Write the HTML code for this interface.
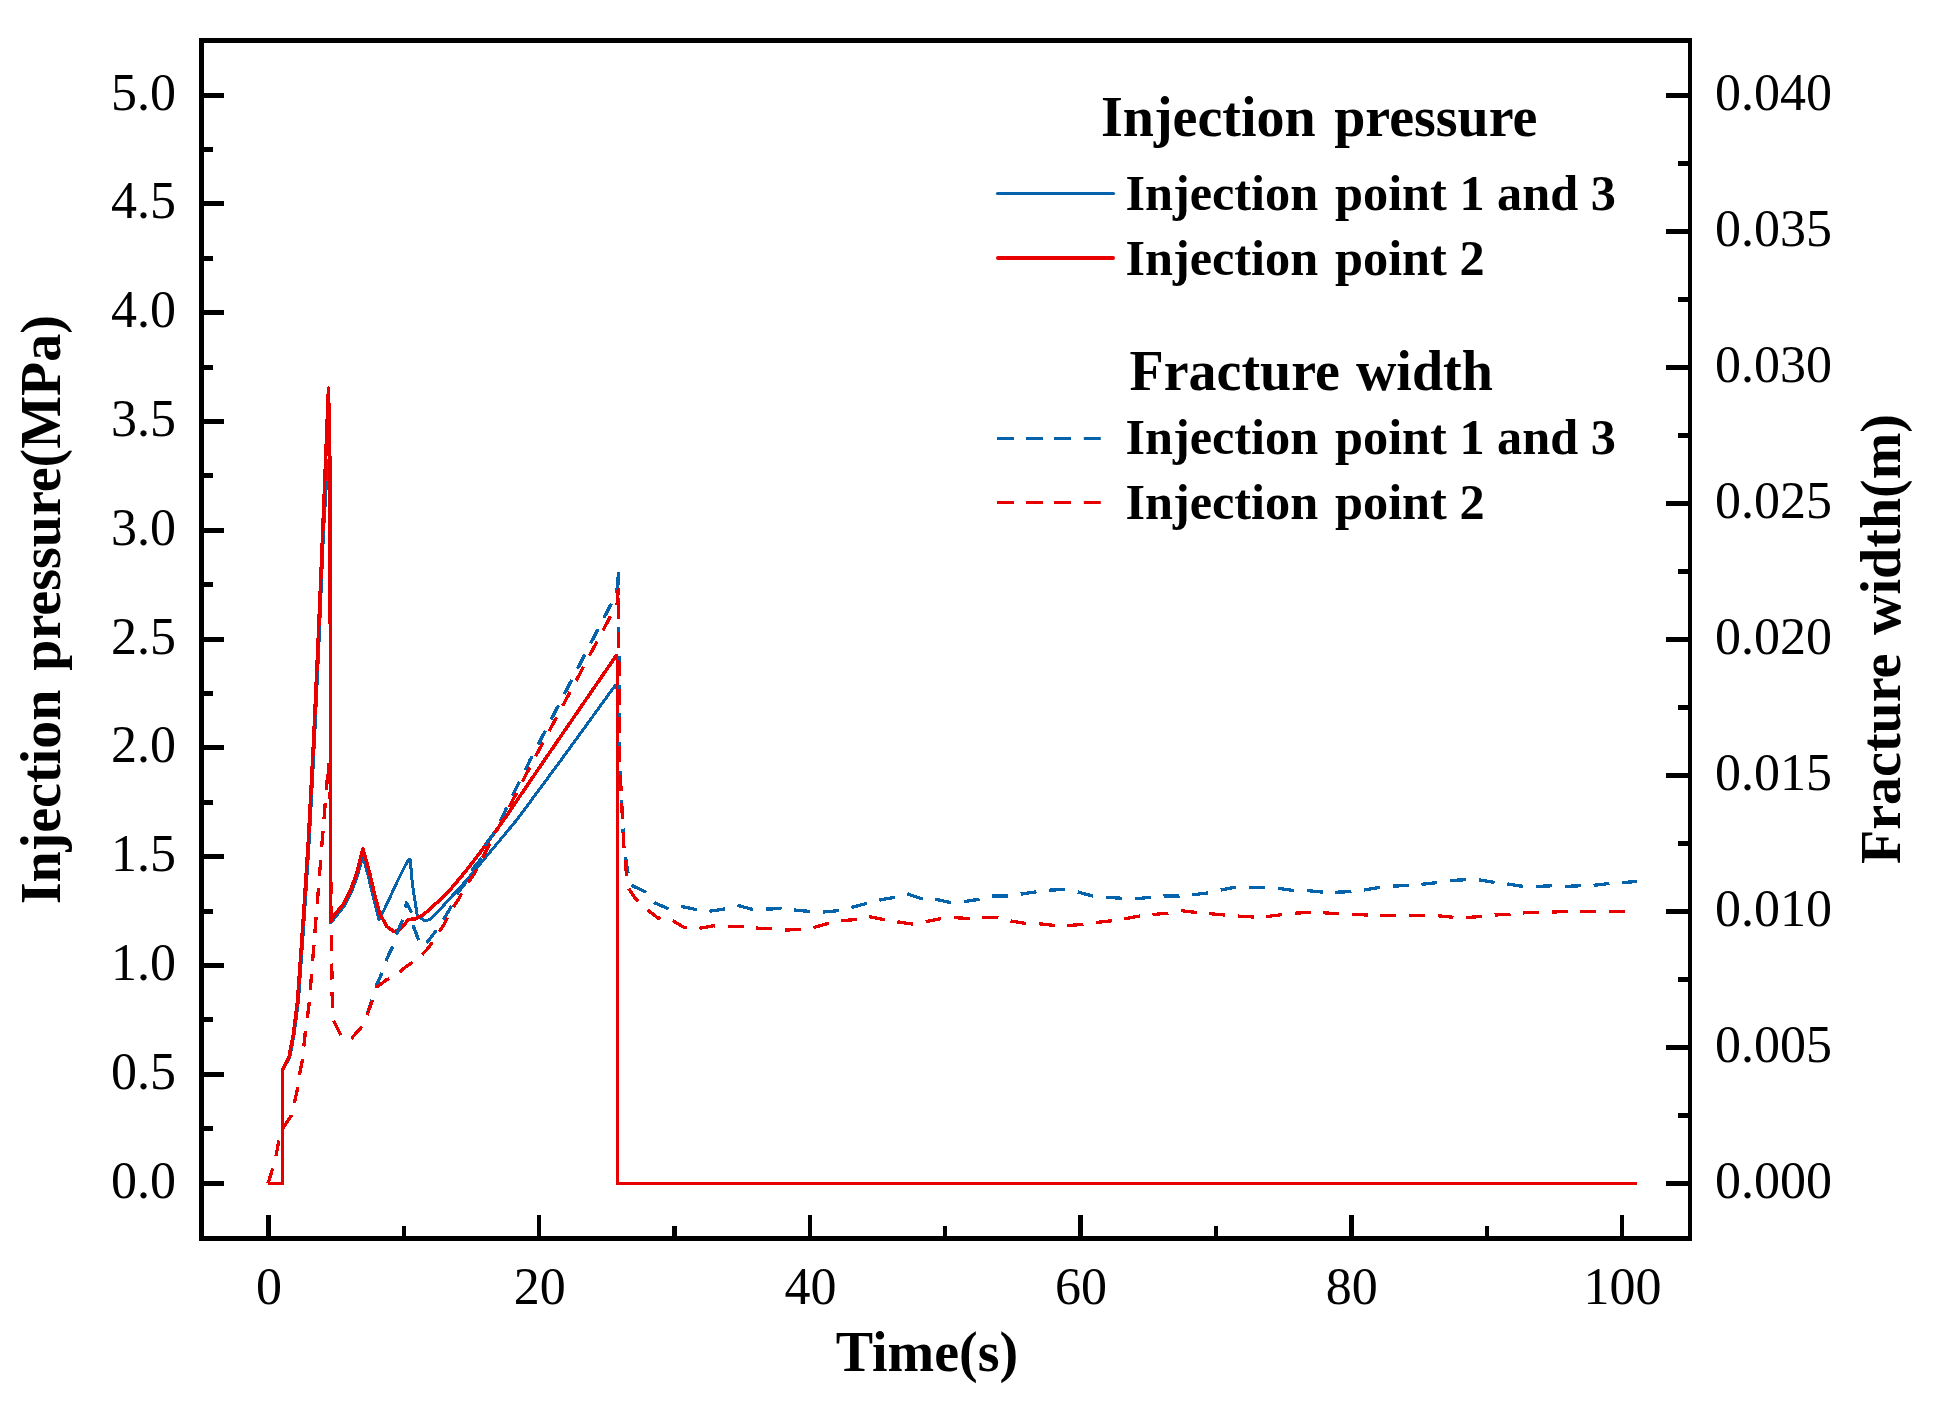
<!DOCTYPE html>
<html lang="en"><head><meta charset="utf-8"><title>Injection pressure and fracture width</title>
<style>html,body{margin:0;padding:0;background:#fff}svg{display:block}text{font-family:"Liberation Serif","Times New Roman",serif;fill:#000}.tk{font-size:52px}.tt{font-size:56px;font-weight:bold}.lg{font-size:51.6px;font-weight:bold}.lt{font-size:56px;font-weight:bold}</style></head><body>
<svg width="1942" height="1406" viewBox="0 0 1942 1406">
<rect width="1942" height="1406" fill="#fff"/>
<g fill="none" stroke-linejoin="round" stroke-linecap="butt" shape-rendering="crispEdges">
<polyline stroke="#0563ab" stroke-width="3" points="267.5,1183.5 282.5,1183.5 282.5,1069.9 289.7,1057.7 294.1,1034.6 298.5,1000.0 304.1,920.0 309.3,840.0 314.5,740.0 319.1,640.0 323.6,530.0 327.8,460.0 330.0,500.0 330.5,640.0 330.6,840.0 330.6,923.0 334.3,918.5 343.9,906.6 351.3,892.2 357.0,877.0 362.9,856.0 368.5,877.0 374.0,900.0 379.0,919.5 385.0,908.0 392.0,893.0 398.0,880.0 404.0,868.0 408.5,859.6 410.2,859.6 412.5,885.0 417.2,915.2 424.5,920.9 430.2,919.5 437.4,912.3 451.8,896.4 466.3,880.5 480.7,863.3 516.7,820.0 561.1,760.0 615.2,685.4 617.5,690.0 617.5,1183.5 1637.0,1183.5"/>
<polyline stroke="#e80000" stroke-width="3.5" points="267.5,1183.5 282.5,1183.5 282.5,1069.9 288.9,1057.7 293.3,1034.6 297.6,1000.0 303.2,920.0 308.4,840.0 313.6,740.0 318.2,640.0 322.8,530.0 328.5,388.0 329.8,458.0 330.3,640.0 330.5,840.0 330.5,921.0 334.3,915.2 343.7,903.6 350.9,889.2 356.7,873.3 362.9,848.8 369.7,873.3 375.4,897.8 379.8,913.7 387.0,926.7 394.2,931.7 399.9,929.6 408.6,919.5 415.8,918.8 423.0,915.2 437.4,902.2 451.8,887.8 466.3,870.5 480.7,851.7 503.7,820.0 544.5,760.0 616.3,655.5 617.7,660.0 617.7,1183.5 1637.0,1183.5"/>
<polyline stroke="#0563ab" stroke-width="3.3" stroke-dasharray="16 12.6" stroke-dashoffset="0" points="267.5,1183.5 268.7,1181.7 272.3,1169.4 276.0,1155.7 278.8,1141.3 283.0,1128.0 284.6,1125.4 291.1,1116.1 294.7,1101.6 297.6,1088.0 299.7,1073.5 302.6,1059.1 304.1,1044.0 305.5,1030.3 307.5,1016.6 309.4,1001.4 323.2,828.6 328.6,762.5 330.2,800.0 331.0,900.0 332.2,1000.0 332.2,1010.0 333.6,1020.9 340.8,1035.3 345.9,1039.6 351.6,1038.2 362.5,1026.0 367.5,1013.2 372.5,998.8 376.9,984.4 382.6,971.4 387.0,958.4 393.5,944.7 397.8,931.0 403.5,918.0 406.4,902.9 407.2,903.6 412.2,913.7 413.6,926.7 418.7,940.4 421.5,946.0 425.9,944.0 435.3,931.7 443.2,920.2 450.4,907.9 456.2,895.0 470.6,876.2 472.8,869.0 482.1,857.5 486.4,843.1 495.1,831.5 530.1,760.0 613.0,600.4 616.6,596.0 618.3,572.3"/>
<polyline stroke="#0563ab" stroke-width="3.3" stroke-dasharray="16 12.83" stroke-dashoffset="3.1" points="618.3,572.3 619.6,760.0 622.4,817.7 623.9,846.5 628.2,874.6 631.8,885.4 645.5,891.9 654.2,902.7 669.3,909.2 680.8,906.3 694.5,909.2 708.2,911.4 723.4,909.2 736.3,904.9 751.5,909.2 765.2,909.2 781.0,908.5 793.3,909.9 809.1,911.4 822.1,912.1 838.0,910.7 850.2,907.8 865.1,903.8 878.8,900.2 894.7,897.3 906.9,893.7 922.1,898.8 935.8,899.2 950.9,902.7 963.9,901.6 979.8,899.2 993.5,895.9 1008.6,895.9 1021.6,894.0 1037.4,891.6 1050.4,890.1 1066.3,889.4 1077.8,892.0 1093.7,896.3 1106.6,897.3 1122.5,898.3 1135.1,898.8 1150.3,897.3 1164.0,895.9 1179.1,895.9 1192.1,894.9 1207.2,893.0 1220.9,890.1 1235.3,887.2 1249.0,887.2 1264.2,887.2 1277.9,888.2 1293.0,890.5 1306.7,890.5 1321.8,892.0 1335.5,892.3 1350.7,891.6 1363.7,890.1 1378.8,887.5 1392.5,886.1 1408.7,885.5 1421.7,884.3 1437.6,882.5 1449.8,880.5 1465.7,879.7 1478.0,879.7 1493.1,882.2 1506.8,883.9 1521.9,886.2 1535.6,886.5 1551.5,885.8 1563.7,886.5 1579.6,885.8 1593.3,885.4 1608.4,883.6 1621.4,882.6 1636.8,881.5"/>
<polyline stroke="#e80000" stroke-width="3.3" stroke-dasharray="16 12.6" stroke-dashoffset="0" points="267.5,1183.5 268.7,1181.7 272.3,1169.4 276.0,1155.7 278.8,1141.3 283.0,1128.0 284.6,1125.4 291.1,1116.1 294.7,1101.6 297.6,1088.0 299.7,1073.5 302.6,1059.1 304.1,1044.0 305.5,1030.3 307.5,1016.6 309.4,1001.4 323.2,828.6 328.6,762.5 330.2,800.0 331.0,900.0 332.2,1000.0 332.2,1010.0 333.6,1020.9 340.8,1035.3 345.9,1039.6 351.6,1038.2 362.5,1026.0 367.5,1014.0 372.5,1000.0 376.9,987.2 386.2,980.0 395.6,975.7 407.2,965.6 417.2,959.9 428.0,948.3 436.0,936.8 443.9,924.5 450.4,911.6 459.0,898.6 465.5,886.3 474.2,874.0 480.7,861.8 487.2,848.8 493.7,835.9 500.9,822.9 533.7,760.0 609.4,618.4 617.4,603.0 618.3,588.0"/>
<polyline stroke="#e80000" stroke-width="3.3" stroke-dasharray="16 12.6" stroke-dashoffset="13.5" points="618.3,588.0 619.6,760.0 622.4,817.7 623.9,846.5 626.5,874.6 627.5,886.9 634.7,897.7 644.8,907.8 657.8,917.9 670.7,919.5 683.7,927.2 697.4,928.7 713.3,925.8 726.2,926.5 742.1,926.5 755.1,928.0 770.2,928.7 784.6,930.1 800.5,929.4 812.0,928.0 827.2,923.6 840.9,920.8 856.0,919.5 868.7,916.5 883.2,919.4 896.9,921.8 912.0,924.0 925.0,921.8 939.4,918.9 952.4,917.5 968.2,918.5 980.5,917.5 996.3,917.5 1009.3,920.8 1025.2,923.3 1038.9,923.7 1054.0,925.4 1067.7,925.7 1082.8,924.3 1095.8,922.5 1111.0,920.8 1123.6,918.9 1139.5,916.1 1151.7,914.6 1167.6,913.2 1181.3,910.7 1197.1,912.5 1209.4,913.6 1225.2,915.1 1238.2,916.1 1254.8,917.1 1267.1,916.5 1282.2,914.6 1295.2,913.2 1311.8,912.2 1323.3,912.7 1339.2,913.9 1352.1,914.2 1368.7,915.1 1381.7,915.3 1397.2,915.6 1410.2,915.6 1426.8,915.6 1438.3,915.8 1454.9,917.5 1467.9,917.5 1480.8,916.5 1493.8,915.1 1509.7,914.2 1522.6,912.9 1538.5,912.2 1550.8,912.2 1566.6,911.3 1580.3,911.3 1596.2,911.3 1608.4,911.7 1626.0,911.3"/>
</g>
<g fill="#000" shape-rendering="crispEdges">
<rect x="199" y="38" width="1493" height="5"/>
<rect x="199" y="1236" width="1493" height="5"/>
<rect x="199" y="38" width="5" height="1203"/>
<rect x="1688" y="38" width="4" height="1203"/>
<rect x="204" y="1181" width="20" height="5"/>
<rect x="204" y="1126" width="9" height="5"/>
<rect x="204" y="1072" width="20" height="5"/>
<rect x="204" y="1017" width="9" height="5"/>
<rect x="204" y="963" width="20" height="5"/>
<rect x="204" y="909" width="9" height="5"/>
<rect x="204" y="854" width="20" height="5"/>
<rect x="204" y="800" width="9" height="5"/>
<rect x="204" y="745" width="20" height="5"/>
<rect x="204" y="691" width="9" height="5"/>
<rect x="204" y="637" width="20" height="5"/>
<rect x="204" y="582" width="9" height="5"/>
<rect x="204" y="528" width="20" height="5"/>
<rect x="204" y="473" width="9" height="5"/>
<rect x="204" y="419" width="20" height="5"/>
<rect x="204" y="365" width="9" height="5"/>
<rect x="204" y="310" width="20" height="5"/>
<rect x="204" y="256" width="9" height="5"/>
<rect x="204" y="201" width="20" height="5"/>
<rect x="204" y="147" width="9" height="5"/>
<rect x="204" y="93" width="20" height="5"/>
<rect x="204" y="38" width="9" height="5"/>
<rect x="1666" y="1181" width="22" height="5"/>
<rect x="1678" y="1113" width="10" height="5"/>
<rect x="1666" y="1045" width="22" height="5"/>
<rect x="1678" y="977" width="10" height="5"/>
<rect x="1666" y="909" width="22" height="5"/>
<rect x="1678" y="841" width="10" height="5"/>
<rect x="1666" y="773" width="22" height="5"/>
<rect x="1678" y="705" width="10" height="5"/>
<rect x="1666" y="637" width="22" height="5"/>
<rect x="1678" y="569" width="10" height="5"/>
<rect x="1666" y="501" width="22" height="5"/>
<rect x="1678" y="433" width="10" height="5"/>
<rect x="1666" y="365" width="22" height="5"/>
<rect x="1678" y="297" width="10" height="5"/>
<rect x="1666" y="229" width="22" height="5"/>
<rect x="1678" y="161" width="10" height="5"/>
<rect x="1666" y="93" width="22" height="5"/>
<rect x="266.3" y="1215" width="4.4" height="21"/>
<rect x="401.7" y="1226" width="4.4" height="10"/>
<rect x="537.0" y="1215" width="4.4" height="21"/>
<rect x="672.3" y="1226" width="4.4" height="10"/>
<rect x="807.7" y="1215" width="4.4" height="21"/>
<rect x="943.0" y="1226" width="4.4" height="10"/>
<rect x="1078.4" y="1215" width="4.4" height="21"/>
<rect x="1213.8" y="1226" width="4.4" height="10"/>
<rect x="1349.1" y="1215" width="4.4" height="21"/>
<rect x="1484.5" y="1226" width="4.4" height="10"/>
<rect x="1619.8" y="1215" width="4.4" height="21"/>
</g>
<g class="tk">
<text x="176" y="1197.5" text-anchor="end">0.0</text>
<text x="176" y="1088.7" text-anchor="end">0.5</text>
<text x="176" y="979.9" text-anchor="end">1.0</text>
<text x="176" y="871.1" text-anchor="end">1.5</text>
<text x="176" y="762.3" text-anchor="end">2.0</text>
<text x="176" y="653.5" text-anchor="end">2.5</text>
<text x="176" y="544.7" text-anchor="end">3.0</text>
<text x="176" y="435.9" text-anchor="end">3.5</text>
<text x="176" y="327.1" text-anchor="end">4.0</text>
<text x="176" y="218.3" text-anchor="end">4.5</text>
<text x="176" y="109.5" text-anchor="end">5.0</text>
<text x="1715" y="1197.5">0.000</text>
<text x="1715" y="1061.5">0.005</text>
<text x="1715" y="925.5">0.010</text>
<text x="1715" y="789.5">0.015</text>
<text x="1715" y="653.5">0.020</text>
<text x="1715" y="517.5">0.025</text>
<text x="1715" y="381.5">0.030</text>
<text x="1715" y="245.5">0.035</text>
<text x="1715" y="109.5">0.040</text>
<text x="269.0" y="1303.5" text-anchor="middle">0</text>
<text x="539.7" y="1303.5" text-anchor="middle">20</text>
<text x="810.4" y="1303.5" text-anchor="middle">40</text>
<text x="1081.1" y="1303.5" text-anchor="middle">60</text>
<text x="1351.8" y="1303.5" text-anchor="middle">80</text>
<text x="1622.5" y="1303.5" text-anchor="middle">100</text>
</g>
<text class="tt" x="926.9" y="1371" text-anchor="middle">Time(s)</text>
<text class="tt" transform="translate(60 609.7) rotate(-90)" text-anchor="middle">Injection <tspan dx="5">pressure(MPa)</tspan></text>
<text class="tt" transform="translate(1900 639) rotate(-90)" text-anchor="middle">Fracture <tspan dx="4.7">width(m)</tspan></text>
<text class="lt" x="1101" y="135.7">Injection <tspan dx="4.5">pressure</tspan></text>
<line x1="997.5" y1="193.5" x2="1113.5" y2="193.5" stroke="#0563ab" stroke-width="3.2" stroke-linecap="round"/>
<text class="lg" transform="translate(1125.4 210) scale(0.975 1)">Injection <tspan dx="4.4">point 1 and 3</tspan></text>
<line x1="998" y1="258" x2="1113" y2="258" stroke="#e80000" stroke-width="4" stroke-linecap="round"/>
<text class="lg" transform="translate(1125.4 274.8) scale(0.975 1)">Injection <tspan dx="4.4">point 2</tspan></text>
<text class="lt" x="1129.5" y="389.5">Fracture <tspan dx="2">width</tspan></text>
<line x1="997" y1="438.5" x2="1101" y2="438.5" stroke="#0563ab" stroke-width="3" stroke-dasharray="17 12 17 11 17 12.8 17 12"/>
<text class="lg" transform="translate(1125.4 454) scale(0.975 1)">Injection <tspan dx="4.4">point 1 and 3</tspan></text>
<line x1="997" y1="502.5" x2="1101" y2="502.5" stroke="#e80000" stroke-width="3" stroke-dasharray="17 12 17 11 17 12.8 17 12"/>
<text class="lg" transform="translate(1125.4 519) scale(0.975 1)">Injection <tspan dx="4.4">point 2</tspan></text>
</svg></body></html>
